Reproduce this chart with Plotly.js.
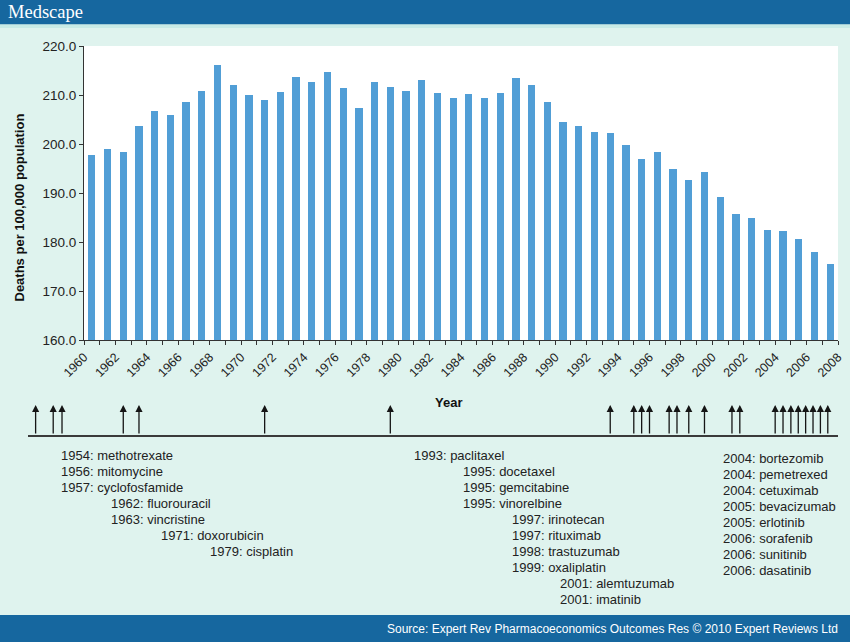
<!DOCTYPE html>
<html>
<head>
<meta charset="utf-8">
<script src="https://cdn.plot.ly/plotly-3.0.1.min.js"></script>
<style>
  html, body { margin: 0; padding: 0; background: #dff3ee; }
  #chart { width: 850px; height: 642px; }
</style>
</head>
<body>
<div id="chart"></div>
<script>
// Cancer deaths per 100,000 population, by year
const years = [1960, 1961, 1962, 1963, 1964, 1965, 1966, 1967, 1968, 1969,
               1970, 1971, 1972, 1973, 1974, 1975, 1976, 1977, 1978, 1979,
               1980, 1981, 1982, 1983, 1984, 1985, 1986, 1987, 1988, 1989,
               1990, 1991, 1992, 1993, 1994, 1995, 1996, 1997, 1998, 1999,
               2000, 2001, 2002, 2003, 2004, 2005, 2006, 2007];
const deathRates = [197.8, 199.0, 198.3, 203.6, 206.7, 205.9, 208.6, 210.9, 216.2, 212.1,
                    210.0, 208.9, 210.7, 213.7, 212.6, 214.7, 211.4, 207.4, 212.6, 211.7,
                    210.9, 213.1, 210.5, 209.4, 210.3, 209.4, 210.5, 213.5, 212.0, 208.6,
                    204.4, 203.7, 202.4, 202.2, 199.7, 197.0, 198.3, 194.8, 192.6, 194.2,
                    189.1, 185.8, 184.9, 182.4, 182.2, 180.6, 178.0, 175.6];

// Year labels on the time axis
const tickLabels = ['1960', '1962', '1964', '1966', '1968', '1970', '1972', '1974', '1976',
                    '1978', '1980', '1982', '1984', '1986', '1988', '1990', '1992', '1994',
                    '1996', '1998', '2000', '2002', '2004', '2006', '2008'];
const yTickValues = [160, 170, 180, 190, 200, 210, 220];

// Approval year of each anticancer drug
const drugYears = [1954, 1956, 1957, 1962, 1963, 1971, 1979,
                   1993, 1995, 1995, 1995, 1997, 1997, 1998, 1999, 2001, 2001,
                   2004, 2004, 2004, 2005, 2005, 2006, 2006, 2006];
const drugNames = ['methotrexate', 'mitomycine', 'cyclofosfamide', 'fluorouracil', 'vincristine',
                   'doxorubicin', 'cisplatin',
                   'paclitaxel', 'docetaxel', 'gemcitabine', 'vinorelbine', 'irinotecan',
                   'rituximab', 'trastuzumab', 'oxaliplatin', 'alemtuzumab', 'imatinib',
                   'bortezomib', 'pemetrexed', 'cetuximab', 'bevacizumab', 'erlotinib',
                   'sorafenib', 'sunitinib', 'dasatinib'];

// ---- page geometry (pixels) ----
const W = 850, H = 642;
const FONT = 'Liberation Sans, Arial, Helvetica, sans-serif';
const BG = '#dff3ee';
const plotLeft = 84, plotRight = 838, plotTop = 46, plotBottom = 340;
const timelineLeft = 28, timelineBase = 435, timelineTop = 403;
const px = v => v / W;
const py = v => 1 - v / H;

const firstYear = 1960, lastYear = 2008;
const pxPerYear = (plotRight - plotLeft) / (lastYear - firstYear);
const timelineStart = firstYear - (plotLeft - timelineLeft) / pxPerYear;

// axis ticks at every year, labelled every second year
const tickVals = [], tickText = [];
for (let y = firstYear; y <= lastYear; y++) {
  tickVals.push(y);
  tickText.push(tickLabels.includes(String(y)) ? String(y) : '');
}

// arrow positions on the timeline: the part before 1960 is squeezed,
// drugs of the same year are spread side by side, and arrows keep a minimum gap
const preAxisScale = 0.56, sameYearStep = 0.5, minGap = 0.47;
const arrowX = [];
drugYears.forEach((yr, i) => {
  const same = drugYears.filter(v => v === yr).length;
  const k = drugYears.slice(0, i).filter(v => v === yr).length;
  let pos = yr + 0.5;
  if (pos < firstYear) pos = firstYear - (firstYear - pos) * preAxisScale;
  pos += (k - (same - 1) / 2) * sameYearStep;
  if (i > 0 && pos < arrowX[i - 1] + minGap) pos = arrowX[i - 1] + minGap;
  arrowX.push(pos);
});

// text blocks listing the drugs
const blocks = [
  { left: 59.3, top: 455.7, indentStep: 49.6, members: [0, 1, 2, 3, 4, 5, 6], indent: [0, 0, 0, 1, 1, 2, 3] },
  { left: 411.7, top: 455.7, indentStep: 48.9, members: [7, 8, 9, 10, 11, 12, 13, 14, 15, 16], indent: [0, 1, 1, 1, 2, 2, 2, 2, 3, 3] },
  { left: 720.7, top: 458.3, indentStep: 0, members: [17, 18, 19, 20, 21, 22, 23, 24], indent: [0, 0, 0, 0, 0, 0, 0, 0] }
];
const lineStep = 16;

const annotations = [];

blocks.forEach(b => {
  b.members.forEach((idx, row) => {
    annotations.push({
      xref: 'paper', yref: 'paper',
      x: px(b.left + b.indent[row] * b.indentStep), y: py(b.top + row * lineStep),
      xanchor: 'left', yanchor: 'middle', showarrow: false,
      text: drugYears[idx] + ': ' + drugNames[idx],
      font: { family: FONT, size: 13, color: '#222222' }
    });
  });
});

arrowX.forEach(x => {
  annotations.push({
    xref: 'x2', yref: 'y2', axref: 'x2', ayref: 'y2',
    x: x, y: 0.94, ax: x, ay: 0,
    text: '', showarrow: true,
    arrowhead: 2, arrowsize: 1.1, arrowwidth: 1.3, arrowcolor: '#151515'
  });
});

// titles and header / footer text
annotations.push(
  { xref: 'paper', yref: 'paper', x: px(18.5), y: py(208), textangle: -90,
    xanchor: 'center', yanchor: 'middle', showarrow: false,
    text: '<b>Deaths per 100,000 population</b>',
    font: { family: FONT, size: 13, color: '#111111' } },
  { xref: 'paper', yref: 'paper', x: px(449), y: py(402),
    xanchor: 'center', yanchor: 'middle', showarrow: false,
    text: '<b>Year</b>', font: { family: FONT, size: 13, color: '#111111' } },
  { xref: 'paper', yref: 'paper', x: px(6), y: py(12.5),
    xanchor: 'left', yanchor: 'middle', showarrow: false,
    text: 'Medscape', font: { family: 'Liberation Serif, Times New Roman, serif', size: 18.5, color: '#ffffff' } },
  { xref: 'paper', yref: 'paper', x: px(840), y: py(629),
    xanchor: 'right', yanchor: 'middle', showarrow: false,
    text: 'Source: Expert Rev Pharmacoeconomics Outcomes Res © 2010 Expert Reviews Ltd',
    font: { family: FONT, size: 12, color: '#ffffff' } }
);

const barTrace = {
  type: 'bar',
  x: years,
  y: deathRates,
  width: 0.46,
  offset: 0.27,
  marker: { color: '#519ed6', line: { width: 0 } },
  hoverinfo: 'x+y',
  xaxis: 'x', yaxis: 'y'
};

// empty trace so the timeline axes are drawn
const timelineTrace = {
  type: 'scatter', mode: 'lines', x: [], y: [], xaxis: 'x2', yaxis: 'y2',
  hoverinfo: 'skip'
};

const layout = {
  width: W, height: H,
  margin: { l: 0, r: 0, t: 0, b: 0, pad: 0 },
  paper_bgcolor: BG,
  plot_bgcolor: BG,
  showlegend: false,
  bargap: 0,
  xaxis: {
    domain: [px(plotLeft), px(plotRight)],
    range: [firstYear, lastYear],
    anchor: 'y',
    tickmode: 'array', tickvals: tickVals, ticktext: tickText,
    ticks: 'outside', ticklen: 4, tickwidth: 1, tickcolor: '#333333',
    tickangle: -45,
    tickfont: { family: FONT, size: 12.5, color: '#222222' },
    showline: true, linecolor: '#333333', linewidth: 1,
    showgrid: false, zeroline: false, fixedrange: true
  },
  yaxis: {
    domain: [py(plotBottom), py(plotTop)],
    range: [160, 220],
    anchor: 'x',
    tickmode: 'array', tickvals: yTickValues,
    ticktext: yTickValues.map(v => v.toFixed(1)),
    ticks: 'outside', ticklen: 4, tickwidth: 1, tickcolor: '#333333',
    tickfont: { family: FONT, size: 13.5, color: '#222222' },
    showline: true, linecolor: '#333333', linewidth: 1,
    showgrid: false, zeroline: false, fixedrange: true
  },
  xaxis2: {
    domain: [px(timelineLeft), px(plotRight)],
    range: [timelineStart, lastYear],
    anchor: 'y2',
    showticklabels: false, ticks: '',
    showline: true, linecolor: '#3a3a3a', linewidth: 1.5,
    showgrid: false, zeroline: false, fixedrange: true
  },
  yaxis2: {
    domain: [py(timelineBase), py(timelineTop)],
    range: [0, 1],
    anchor: 'x2',
    visible: false, fixedrange: true
  },
  shapes: [
    // white plotting area behind the bars only
    { type: 'rect', xref: 'x domain', yref: 'y domain', x0: 0, x1: 1, y0: 0, y1: 1,
      fillcolor: '#ffffff', line: { width: 0 }, layer: 'below' },
    // header band
    { type: 'rect', xref: 'paper', yref: 'paper', x0: 0, x1: 1, y0: py(24.5), y1: 1,
      fillcolor: '#16679f', line: { width: 0 } },
    { type: 'rect', xref: 'paper', yref: 'paper', x0: 0, x1: 1, y0: py(28), y1: py(24.5),
      fillcolor: '#c8ebe6', line: { width: 0 } },
    // footer band
    { type: 'rect', xref: 'paper', yref: 'paper', x0: 0, x1: 1, y0: 0, y1: py(615),
      fillcolor: '#16679f', line: { width: 0 } }
  ],
  annotations: annotations
};

Plotly.newPlot('chart', [barTrace, timelineTrace], layout, { displayModeBar: false, staticPlot: true });
</script>
</body>
</html>
